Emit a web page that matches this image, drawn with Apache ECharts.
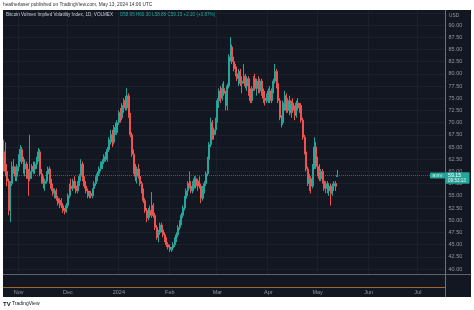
<!DOCTYPE html>
<html><head><meta charset="utf-8">
<script src="https://cdn.jsdelivr.net/npm/echarts@6/dist/echarts.min.js"></script>
<style>html,body{margin:0;padding:0;background:#fff}#c{width:474px;height:310px}</style>
</head><body><div id="c"></div>
<script>
// ---- data ----
const startDate = '2023-10-23';
const dayCount = 269; // Oct 23 2023 .. Jul 17 2024 (axis extends past data)
const tickDates = ['2023-11-01','2023-12-01','2024-01-01','2024-02-01','2024-03-01','2024-04-01','2024-05-01','2024-06-01','2024-07-01'];
const tickLabels = ['Nov','Dec','2024','Feb','Mar','Apr','May','Jun','Jul'];
const opens = [
62,64,60,58,52,57.5,61,60.5,59,61,
63,64.5,62,60.5,61.5,59.5,58.5,60,61,60.5,
61.5,62.5,64,59.5,58,57.5,58,59.5,60.5,58,
56.5,55.5,56,54.5,53.5,54,53,52,51.8,53,
55,57,56.5,58,57,56,57.5,59,61.5,58.5,
57,56,55,55.5,55,56.5,57.5,58.5,59.5,60.5,
61.5,62,63,62.5,64.5,66.5,67.5,66,69,68,
70,72,71,73.5,74.5,73,75.5,71.5,67.5,63.5,
60,59,60.5,59,57.5,56,54,52,50.5,52,
51,53,51,48.5,46.5,47.5,49,48,47,46,
45,44.5,44,44.3,45,46,47,48.5,49.5,51,
52.5,54.5,56,57.5,57,56,57.5,58.5,57,58,
57,54.5,56.5,57.5,59.5,62.5,65.5,70,67.5,68.5,
70.5,74.5,76.5,75,77,76,73.5,77.5,83.5,85.5,
82.5,81,80,79,80.5,78,78.5,79.5,77.5,79,
76,74.5,77,79,77,78.5,76.5,78.5,76,75,
74.5,75.5,76.5,74.5,76.5,78.5,80.5,78,74.5,71,
70,74,75.5,72.5,74.5,72,74,72.5,71.5,74,
73,73.5,70.5,67,64,60.5,57.5,58.5,57,61,
65,61,60,58.5,60,58,56.5,57.5,56,57,
55.5,57,57.5,58.95];
const highs = [
66.5,66,61.5,58.5,58,62,62.5,61,61.5,63.5,
65.4,65,63,62.5,62,60.5,67.5,61.5,62,62,
63,64.8,64.5,60.5,59,58.5,60,61,61,58.5,
57.5,56.5,56.5,55,54.5,54.5,53.5,52.5,53.5,55.5,
57.5,58.5,58.5,59,58,58,59.5,62.5,62,59,
58,56.5,56,56,56.5,58,59,60,61,62,
62.5,63.5,64,65,67,68.5,68.5,69.5,70,70.5,
72.5,73,74,75,75.5,77.1,76,72,68,64.5,
61.5,61,61.5,59.5,58,56.5,54.5,52.5,52.5,53,
55.8,53.5,51.5,49,48,49.5,49.5,48.5,47.5,46.5,
45.5,45,44.5,45.5,46.5,47.5,49,50,51.5,53,
55,56.5,58,60,58,58,59,59,58.5,59,
57.5,57,58,60,63,66,71,70.5,69,71,
75,77,77.5,78,78.5,76.5,78,84,87.5,86,
83.5,82,81.5,81,81,79.5,82,80,79.5,79.5,
77,77.5,79.5,80,79,79.5,79,79,77,76.5,
76,77,77.5,77,79,82,81,78.5,75,71.5,
74.5,76.5,76,75,75.5,74.5,75,73.5,74.5,75,
74,74,71,67.5,64.5,61,59.5,59,61.5,67,
66,63,61.5,60.5,60.5,58.5,58,58,57.5,57.5,
57.5,58,58,60.3];
const lows = [
60,59,57,51,49.6,57,59.5,58,58,60,
62,61.5,59.5,59,58.5,55,58,58.5,59.5,59.5,
60.5,62,59,57.5,56.5,56,57.5,58.5,57.5,56,
55,54.5,54,53,52.5,52.5,51.5,51.2,51.5,52.5,
54.5,56,56,56.5,55.5,55.5,57,58,58,56.5,
55.5,54.5,54.5,54.5,54.5,56,57,58,59,60,
60.5,61.5,62,62,64,65.5,65,65.5,67.5,67.5,
69.5,70,70.5,72,72.5,72.5,71,67,63,59.5,
58,57.5,58.5,57,55.5,53.5,51.5,49.6,50,50.5,
50.5,50.5,48,46,45.5,47,47.5,46.5,45.5,44.5,
44,43.5,43.5,43.8,44.5,45.5,46.5,48,49,50.5,
52,53.5,55,56.5,55.5,55.5,56.5,56.5,56,56.5,
53.5,54,55.5,57,59,62,65,66.5,66.5,67.5,
70,73,74,74.5,75.5,72.5,72.5,77,82.5,82,
80.5,79.5,78.5,77.5,77.5,76,78,77,76.5,75.5,
74,74,76.5,76.5,75.5,76,76,75.5,74,73.5,
74,74,74,74,76,78,77,74,70.5,69,
69.5,72.5,72,72,71.5,71,72,70.5,71,72.5,
72,70,66.5,63.5,60,57,56,55.5,56.5,60.5,
60.5,59,58,58,57.5,56,55.5,55.5,55,53,
55,56,56,58.88];
const closes = [
64,60,58,52,57.5,61,60.5,59,61,63,
64.5,62,60.5,61.5,59.5,58.5,60,61,60.5,61.5,
62.5,64,59.5,58,57.5,58,59.5,60.5,58,56.5,
55.5,56,54.5,53.5,54,53,52,51.8,53,55,
57,56.5,58,57,56,57.5,59,61.5,58.5,57,
56,55,55.5,55,56.5,57.5,58.5,59.5,60.5,61.5,
62,63,62.5,64.5,66.5,67.5,66,69,68,70,
72,71,73.5,74.5,73,75.5,71.5,67.5,63.5,60,
59,60.5,59,57.5,56,54,52,50.5,52,51,
53,51,48.5,46.5,47.5,49,48,47,46,45,
44.5,44,44.3,45,46,47,48.5,49.5,51,52.5,
54.5,56,57.5,57,56,57.5,58.5,57,58,57,
54.5,56.5,57.5,59.5,62.5,65.5,70,67.5,68.5,70.5,
74.5,76.5,75,77,76,73.5,77.5,83.5,85.5,82.5,
81,80,79,80.5,78,78.5,79.5,77.5,79,76,
74.5,77,79,77,78.5,76.5,78.5,76,75,74.5,
75.5,76.5,74.5,76.5,78.5,80.5,78,74.5,71,70,
74,75.5,72.5,74.5,72,74,72.5,71.5,74,73,
73.5,70.5,67,64,60.5,57.5,58.5,57,61,65,
61,60,58.5,60,58,56.5,57.5,56,57,55.5,
57,57.5,56.95,59.15];
const lastPrice = 59.15;
const symbolTag = 'BVIV';
const countdown = '09:53:13';
const headerText = 'heatherlaser published on TradingView.com, May 13, 2024 14:06 UTC';
const legendTitle = 'Bitcoin Volmex Implied Volatility Index, 1D, VOLMEX';
const legendValues = 'O58.95 H60.30 L58.88 C59.15 +2.20 (+3.87%)';

// ---- build ----
const categories = [];
const d0 = new Date(startDate + 'T00:00:00Z');
for (let i = 0; i < dayCount; i++) {
  categories.push(new Date(d0.getTime() + i * 86400000).toISOString().slice(0, 10));
}
const candles = opens.map((o, i) => [o, closes[i], lows[i], highs[i]]);
const isTick = (idx, v) => tickDates.indexOf(categories[idx]) >= 0;

const BG = '#131722', UP = '#26a69a', DOWN = '#ef5350', ORANGE = '#a0662b';
const FONT = 'Liberation Sans, Arial, sans-serif';

function baseGraphic() {
  return [
    {type:'rect', id:'panel', shape:{x:3,y:10,width:468,height:287}, style:{fill:BG}, z:-10, silent:true},
    {type:'rect', id:'topcover', shape:{x:0,y:0,width:474,height:10}, style:{fill:'#ffffff'}, z:100, silent:true},
    {type:'rect', id:'botcover', shape:{x:3,y:275,width:442,height:8}, style:{fill:BG}, z:100, silent:true},
    {type:'line', id:'grayline', shape:{x1:3,y1:274.5,x2:471,y2:274.5}, style:{stroke:'#5d606b', lineWidth:1}, z:101, silent:true},
    {type:'line', id:'orangeh', shape:{x1:3,y1:287.5,x2:445,y2:287.5}, style:{stroke:ORANGE, lineWidth:1}, z:101, silent:true},
    {type:'line', id:'orangev', shape:{x1:445.5,y1:10,x2:445.5,y2:297}, style:{stroke:ORANGE, lineWidth:1}, z:101, silent:true},
    {type:'text', id:'header', x:3, y:5, style:{text:headerText, fill:'#333', font:'4.8px ' + FONT, textVerticalAlign:'middle'}, z:102, silent:true},
    {type:'text', id:'legend', x:6, y:15, style:{
      text:'{t|' + legendTitle + '}  {v|' + legendValues + '}',
      rich:{t:{fill:'#c7cad3', font:'4.6px ' + FONT}, v:{fill:UP, font:'4.6px ' + FONT}},
      textVerticalAlign:'middle'}, z:102, silent:true},
    {type:'text', id:'usd', x:449, y:15.5, style:{text:'USD', fill:'#9598a1', font:'4.8px ' + FONT, textVerticalAlign:'middle'}, z:102, silent:true},
    {type:'text', id:'logo', x:3, y:304, style:{text:'TV', fill:'#131722', font:'bold 6px ' + FONT, textVerticalAlign:'middle'}, z:102, silent:true},
    {type:'text', id:'brand', x:12, y:304, style:{text:'TradingView', fill:'#131722', font:'5px ' + FONT, textVerticalAlign:'middle'}, z:102, silent:true}
  ];
}

const chart = echarts.init(document.getElementById('c'), null, {renderer:'canvas'});
const option = {
  backgroundColor:'#ffffff',
  animation:false,
  grid:{left:3, right:29, top:0.6, bottom:28.8},
  xAxis:{
    type:'category', data:categories, boundaryGap:true,
    axisLine:{show:false}, axisTick:{show:false},
    axisLabel:{interval:isTick, formatter:v => tickLabels[tickDates.indexOf(v)] || '', color:'#9598a1', fontSize:5.5, fontFamily:FONT, margin:8},
    splitLine:{show:true, interval:isTick, lineStyle:{color:'#1c202b', width:1}}
  },
  yAxis:{
    type:'value', position:'right', min:37.5, max:95, interval:2.5, scale:true,
    axisLine:{show:false}, axisTick:{show:false},
    axisLabel:{formatter:v => (v < 40 || v > 90) ? '' : v.toFixed(2), color:'#9598a1', fontSize:5.5, fontFamily:FONT, margin:3.5},
    splitLine:{show:true, showMinLine:false, showMaxLine:false, lineStyle:{color:'#1c202b', width:1}}
  },
  series:[{
    type:'candlestick', data:candles, barWidth:1.5,
    itemStyle:{color:UP, color0:DOWN, borderColor:UP, borderColor0:DOWN, borderWidth:1},
    markLine:{silent:true, symbol:['none','none'], label:{show:false},
      lineStyle:{type:'dotted', color:UP, width:1, opacity:0.6},
      data:[{yAxis:lastPrice}]}
  }],
  graphic:baseGraphic()
};
chart.setOption(option);

const py = chart.convertToPixel({yAxisIndex:0}, lastPrice);
const tags = [
  {type:'rect', id:'symtag', shape:{x:430, y:py-3, width:15, height:6, r:0.8}, style:{fill:UP}, z:103, silent:true},
  {type:'text', id:'symtxt', x:437.5, y:py, style:{text:symbolTag, fill:'#e8f5f3', font:'4.3px ' + FONT, textAlign:'center', textVerticalAlign:'middle'}, z:104, silent:true},
  {type:'rect', id:'pricetag', shape:{x:445.5, y:py-3.2, width:24, height:11.5, r:0.8}, style:{fill:UP}, z:103, silent:true},
  {type:'text', id:'pricetxt', x:448, y:py, style:{text:lastPrice.toFixed(2), fill:'#ffffff', font:'5.3px ' + FONT, textVerticalAlign:'middle'}, z:104, silent:true},
  {type:'text', id:'cdtxt', x:448, y:py+5.3, style:{text:countdown, fill:'#e8f5f3', font:'4.6px ' + FONT, textVerticalAlign:'middle'}, z:104, silent:true}
];
chart.setOption({graphic: baseGraphic().concat(tags)});
</script>
</body></html>
